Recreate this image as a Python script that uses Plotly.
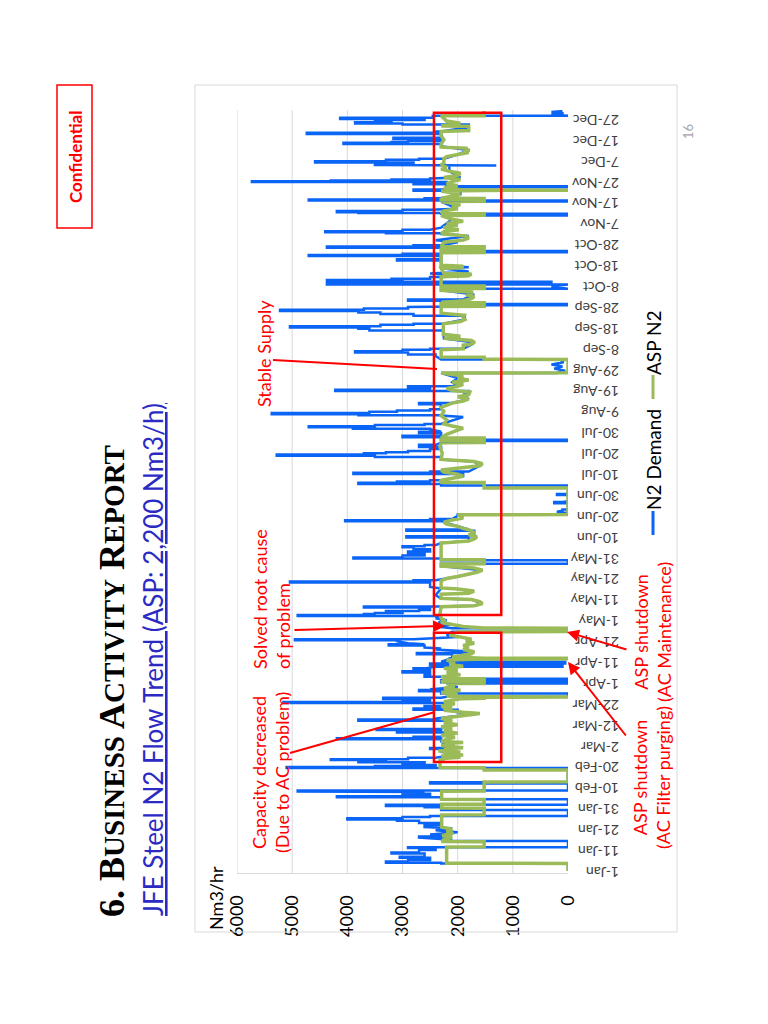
import plotly.graph_objects as go

# ---------------- data (day index 0 = 1-Jan) ----------------
date_tick_days = [0, 10, 20, 30, 40, 50, 60, 70, 80, 90, 100, 110, 120, 130, 140, 150, 160, 170,
                  180, 190, 200, 210, 220, 230, 240, 250, 260, 270, 280, 290, 300, 310, 320, 330,
                  340, 350, 360]
date_tick_labels = ["1-Jan", "11-Jan", "21-Jan", "31-Jan", "10-Feb", "20-Feb", "2-Mar", "12-Mar",
                    "22-Mar", "1-Apr", "11-Apr", "21-Apr", "1-May", "11-May", "21-May", "31-May",
                    "10-Jun", "20-Jun", "30-Jun", "10-Jul", "20-Jul", "30-Jul", "9-Aug", "19-Aug",
                    "29-Aug", "8-Sep", "18-Sep", "28-Sep", "8-Oct", "18-Oct", "28-Oct", "7-Nov",
                    "17-Nov", "27-Nov", "7-Dec", "17-Dec", "27-Dec"]
value_ticks = [0, 1000, 2000, 3000, 4000, 5000, 6000]
value_tick_labels = ["0", "1000", "2000", "3000", "4000", "5000", "6000"]

# ASP N2 (day, Nm3/hr)
asp_n2 = [
    (0, 0), (3.6, 0), (3.7, 2200), (6, 2200), (9, 2210), (11.5, 2200), (11.6, 1520), (14.0, 1520),
    (14.1, 2290), (15, 2250), (16, 2100), (17, 2280), (18, 2080), (19, 2200), (20, 2100), (21, 2290),
    (26.8, 2290), (26.9, 1520), (30.0, 1520), (30.1, 2290), (31.9, 2290), (32.0, 1520), (34.2, 1520),
    (34.3, 2290), (38.2, 2290), (38.3, 1520), (42.6, 1520), (42.7, 0), (48.3, 0), (48.4, 1520),
    (49.4, 1520), (49.5, 2320), (53, 2320),
    (54, 2200), (54.5, 1950), (55, 2300), (55.5, 1900), (56, 2250), (57, 1950), (57.5, 2350), (58, 2000),
    (58.5, 2250), (59, 1900), (60, 2300), (60.5, 2050), (61, 2250), (61.5, 1900), (62, 2300), (63, 2200),
    (64, 2050), (65, 2300), (66, 2000), (67, 2250), (68, 2100), (69, 2300), (70, 2000), (71, 2250),
    (72, 2100), (73, 2300), (74, 2000), (74.8, 1750), (75.4, 1600), (76, 1900), (77, 2250), (78, 2100),
    (79, 2300), (80, 2050), (81, 2250), (82.5, 1950), (82.7, 1520), (83.2, 1520), (83.3, 0), (83.4, 1520),
    (83.6, 2200), (84.5, 2000), (85.5, 2300), (86.5, 1950), (87.5, 2250), (88.5, 2050), (89.7, 2200),
    (89.8, 1520), (90.4, 1520), (90.5, 2300), (91.2, 2250), (91.3, 1520), (92, 1520), (92.1, 2100),
    (93, 2300), (94, 1950), (95, 2200), (96, 2000), (97, 2250), (98, 1900), (99, 2150), (100, 2050),
    (101, 2200), (101.5, 1520), (101.6, 0), (101.8, 0), (101.9, 1520), (102.5, 2100), (103, 1950),
    (104, 1750), (105, 1700), (106, 1900), (107, 1800), (108, 1900), (109, 1700), (110, 1850),
    (111, 1750), (112, 1950), (113, 2150), (114.4, 2000), (114.5, 1520), (114.6, 0), (116.2, 0),
    (116.3, 1520), (117, 1900), (118, 2150), (119, 2300), (120, 2250), (121, 2300),
    (123, 2320), (126.5, 2300), (127, 1700), (128, 1550), (129, 1600), (130, 1750), (130.5, 2300),
    (132.5, 2300), (133, 1800), (134, 1700), (135, 2000), (135.5, 2300), (139, 2300), (140, 2200),
    (141, 2000), (142, 1800), (143, 1650), (144, 1550), (145, 1700), (146, 2300), (147, 2300),
    (147.1, 1520), (149, 1520), (149.1, 2300), (157, 2300), (158, 1800), (159, 1700), (160, 1650),
    (161, 1800), (162, 1700), (163, 1750), (164, 1900), (165, 2000), (166, 2200), (167, 2250),
    (168, 2100), (169, 1900), (170.5, 2000), (170.6, 1520), (170.7, 0), (183.3, 0), (183.4, 1520),
    (186, 1520), (186.1, 2320), (187, 2300), (188, 2100), (189, 1900), (190, 2000), (191, 2250),
    (192, 2300), (193, 2000), (194, 1600), (195, 1550), (196, 1700), (197, 2300), (200, 2280),
    (203, 2320), (205, 2300), (205.1, 1520), (206, 1520), (206.1, 2300), (206.6, 2300), (206.7, 1520),
    (207.3, 1520), (207.4, 2300), (209, 2200), (211, 2000), (212, 1900), (213, 2100), (214, 2250),
    (216, 2200), (218, 2300), (220, 2250), (222, 2300), (224, 2100), (225, 1900), (226, 1800),
    (227, 2000), (228, 1800), (229.3, 1780), (230, 2100), (231, 2200), (232, 2000), (233, 1900),
    (234, 2100), (235, 1800), (236, 2000), (237, 1900), (238.4, 2300), (238.5, 0), (244.9, 0),
    (245, 1520), (246, 1520), (246.1, 2300), (249.5, 2300), (250, 1900), (251.7, 1900), (252, 1780),
    (253, 1690), (254, 1750), (255, 2250), (256, 1950), (257, 2260), (262, 2260), (263, 1950),
    (264, 1870), (265, 1900), (266, 1880), (267, 2300), (270.2, 2300), (270.3, 1520), (271, 1520),
    (271.1, 2300), (271.5, 2300), (271.6, 1520), (272, 1520), (272.1, 2300), (273, 1900), (274, 1750),
    (275, 1700), (276, 1850), (277, 1720), (278, 2300), (278.8, 2300), (278.9, 1520), (280, 1520),
    (280.1, 2300), (284.5, 2300), (285, 1800), (285.8, 1750), (286, 2250), (288.5, 2300),
    (288.6, 1950), (289.5, 1900), (290, 2300), (296, 2300), (296.1, 1520), (297, 1520), (297.1, 2300),
    (297.6, 2300), (297.7, 1520), (298.8, 1520), (298.9, 2300), (301, 2250), (302, 1900), (303, 1800),
    (304, 1850), (305, 2300), (306, 2250), (307, 1980), (308, 2260), (309, 2000), (310, 2200),
    (311, 1900), (312, 2100), (313.8, 2300), (313.9, 1520), (314.6, 1520), (314.7, 2300), (316, 2250),
    (317, 2000), (318, 2100), (319, 1950), (320.5, 2300), (320.6, 1520), (321.1, 1520), (321.2, 2300),
    (321.4, 2300), (321.5, 1520), (321.9, 1520), (322, 2300), (323, 2100), (324, 1950), (325.5, 2300),
    (325.8, 1520), (325.9, -30), (326, 1900), (327, 2250), (328, 2000), (329, 2200), (330, 2100),
    (331, 1950), (332, 2250), (333, 2000), (334, 1950), (335, 2150), (336, 2300), (337, 2200),
    (338, 2300), (339, 2250), (341, 2250), (342, 2200), (343, 2000), (343.5, 1850), (344, 1800),
    (344.5, 1900), (345, 1780), (345.5, 1880), (346, 1820), (346.5, 2300), (348, 2300), (350, 2250),
    (352, 2300), (354, 2300), (354.5, 1800), (356.5, 1800), (356.6, 2300), (358, 1950), (359, 2200),
    (361.5, 2300), (361.6, 1520), (363.8, 1520),
]

# N2 Demand (day, Nm3/hr)
n2_demand = [
    (0, 0), (3.6, 0), (3.6, 2300), (4.0, 2300), (4.0, 3300), (4.5, 3300), (4.5, 2900), (5.3, 2900),
    (5.3, 2500), (6.3, 2500), (6.3, 3050), (6.8, 3050), (6.8, 2600), (8.4, 2600), (8.4, 3200),
    (8.9, 3200), (8.9, 2700), (10, 2700), (10, 2400), (11, 2400), (11, 2900), (11.4, 2900), (11.4, 0),
    (14.3, 0), (14.3, 2300), (15, 2100), (16, 2700), (16.5, 2700), (16.5, 2200), (17.5, 2500),
    (18.5, 2000), (19.5, 2400), (20.5, 2100), (21, 2600), (22, 2600), (22, 2300), (23, 2300),
    (23, 2700), (24, 2700), (24, 3100), (24.7, 3100), (24.7, 4000), (25.2, 4000), (25.2, 3000),
    (25.8, 3000), (25.8, 2500), (26.3, 2500), (26.3, 0), (29.2, 0), (29.2, 2300), (30.5, 2300),
    (30.5, 2600), (31.1, 2600), (31.1, 3300), (31.7, 3300), (31.7, 0), (34.3, 0), (34.3, 2300),
    (35.3, 2300), (35.3, 4190), (35.8, 4190), (35.8, 2800), (36.5, 2800), (36.5, 2500), (37, 2500),
    (37, 3000), (37.8, 3000), (37.8, 2600), (38.1, 2600), (38.1, 4900), (38.5, 4900), (38.5, 0),
    (41.9, 0), (41.9, 2500), (42.5, 2500), (42.5, 0), (49.3, 0), (49.3, 5100), (49.8, 5100),
    (49.8, 3500), (50.3, 3500), (50.3, 2400), (50.7, 2400), (50.7, 3000), (51.3, 3000), (51.3, 2600),
    (52, 2600), (52, 3800), (52.6, 3800), (52.6, 3300), (53.1, 3300), (53.1, 4300), (53.5, 4300),
    (53.5, 2900), (54.2, 2900), (54.2, 2400),
    (55, 2200), (56, 2000), (57, 2300), (58.4, 2300), (58.4, 2500), (58.9, 2500), (58.9, 2200),
    (60, 2200), (62, 2300), (63.1, 2300), (63.1, 4190), (63.6, 4190), (63.6, 2800), (64.3, 2800),
    (64.3, 2300), (65.5, 2200), (66.3, 2200), (66.3, 3100), (66.9, 3100), (66.9, 2300), (67.5, 2300),
    (67.5, 3470), (68, 3470), (68, 2300), (70, 2200), (71.9, 2200), (71.9, 3800), (72.5, 3800),
    (72.5, 2400), (73, 2400), (74, 2100), (75.4, 1600), (76, 2000), (77.2, 2000), (77.2, 2800),
    (77.8, 2800), (77.8, 2300), (78.4, 2300), (78.4, 2600), (79, 2600), (79, 2200), (80.4, 2200),
    (80.4, 5160), (80.9, 5160), (80.9, 3000), (81.5, 3000), (81.5, 2500), (82.3, 2500), (82.3, 3350),
    (82.9, 3350), (82.9, 2300), (83.4, 2200), (83.4, 0), (85, 0), (85, 2300), (86, 2300), (86, 2700),
    (86.6, 2700), (86.6, 2200), (87, 2500), (88, 2000), (89.7, 2200), (89.7, 0), (90.4, 0),
    (90.4, 2300), (91.3, 2300), (91.3, 0), (92, 0), (92, 2100), (93, 2100), (93, 2600), (94, 2600),
    (94, 2500), (95, 2500), (95, 3000), (95.6, 3000), (95.6, 2500), (96.3, 2500), (96.3, 2800),
    (97, 2800), (97, 2600), (97.8, 2400), (97.8, 100), (98.6, 100), (98.6, 2500), (99.3, 2500),
    (99.3, 50), (100.2, 50), (100.2, 2300), (101, 2200), (102.5, 2100), (103.8, 2100), (103.8, 2740),
    (104.3, 2740), (104.3, 2000), (105, 1700), (106, 2400), (106.5, 2300), (107, 2600), (108, 2600),
    (108, 3250), (108.6, 3250), (108.6, 2600), (109, 2900), (110, 3100), (110.5, 3100), (110.5, 4950),
    (110.9, 4950), (110.9, 2800), (111.5, 2400), (112, 2000), (113, 2200), (114.5, 2100), (114.5, 0),
    (116.2, 0), (116.2, 2100), (117, 2400), (118, 2100), (119, 2350), (120, 2200), (121, 2400),
    (122.1, 2300), (122.1, 4900), (122.5, 4900), (122.5, 3700), (123, 3700), (123, 3500),
    (123.5, 3500), (123.5, 3000), (124, 3000), (124, 3300), (124.5, 3300), (124.5, 2700), (125, 2700),
    (125, 2500), (126.1, 2500), (126.1, 3700), (126.6, 3700), (126.6, 2400), (127, 1700), (128, 1550),
    (129, 1650), (130, 1750), (130.5, 2300), (132, 2400), (135.2, 2300), (136, 2500), (138.1, 2500),
    (138.1, 5040), (138.6, 5040), (138.6, 2800), (139.2, 2800), (139.2, 2400), (140, 2200),
    (142, 1800), (144, 1550), (146, 2300), (147.1, 2300), (147.1, 0), (148.8, 0), (148.8, 2300),
    (149.6, 2300), (149.6, 3890), (150.1, 3890), (150.1, 3000), (151, 3000), (151, 2600), (152, 2600),
    (152, 2900), (153, 2900), (153, 2500), (154, 2500), (154, 2800), (155, 2800), (155, 3000),
    (155.5, 3000), (155.5, 2600), (156, 2600), (156, 2400), (157, 2300), (158, 1800), (159.7, 1800),
    (159.7, 2930), (160.3, 2930), (160.3, 1700), (162, 1700), (162.9, 1700), (162.9, 2930),
    (163.5, 2930), (163.5, 1800), (165, 2000), (167, 2250), (167.4, 2250), (167.4, 4040),
    (167.9, 4040), (167.9, 2500), (168.5, 2500), (168.5, 2100), (170, 2000), (170.6, 2000),
    (170.6, 0), (171.5, 0), (171.5, 150), (172, 200), (172.5, 100), (173, 100), (173, 0), (176, 0),
    (176, 250), (176.6, 250), (176.6, 100), (177, 0), (180, 0), (180, 200), (180.5, 200), (180.5, 0),
    (184.5, 0), (184.5, 2300), (185.3, 2300), (185.3, 3800), (185.9, 3800), (185.9, 3100),
    (186.5, 3100), (186.5, 2500), (187, 2500), (187, 2300), (189, 1900), (190.1, 1900), (190.1, 3890),
    (190.6, 3890), (190.6, 2500), (191.2, 2500), (191.2, 1800), (192.5, 1700), (194, 1600),
    (196, 1700), (197, 2300), (198.2, 2300), (198.2, 3500), (198.8, 3500), (198.8, 5280),
    (199.4, 5280), (199.4, 3700), (200, 3700), (200, 3300), (200.5, 3300), (200.5, 2900), (201, 2900),
    (201, 2500), (202, 2500), (202, 2300), (203, 2300), (203, 2700), (204, 2700), (204, 2400),
    (205, 2300), (205, 1520), (205.9, 1520), (205.9, 0), (206.5, 0), (206.5, 2300), (207.7, 2300),
    (207.7, 3000), (208.3, 3000), (208.3, 2300), (209.7, 2300), (209.7, 2700), (210.3, 2700),
    (210.3, 2300), (211.5, 2500), (211.7, 2500), (211.7, 3900), (212.4, 3900), (212.4, 4700),
    (212.9, 4700), (212.9, 3500), (213.5, 3500), (213.5, 2600), (214, 2600), (214, 2300),
    (217.3, 1900), (218, 2300), (218.2, 2300), (218.2, 3800), (218.7, 3800), (218.7, 5370),
    (219.2, 5370), (219.2, 3600), (219.8, 3600), (219.8, 3100), (220.4, 3100), (220.4, 2500),
    (221, 2500), (221, 2300), (223.4, 2300), (223.4, 2700), (224, 2700), (224, 2100), (226, 1800),
    (228, 1900), (229, 1800), (229.8, 1800), (229.8, 4220), (230.4, 4220), (230.4, 2500),
    (231.4, 2500), (231.4, 2900), (232, 2900), (232, 2000), (234, 2100), (236, 2000), (238.4, 2300),
    (238.4, 200), (239.5, 50), (240.5, 250), (241.5, 100), (242.5, 300), (243.5, 80), (244.9, 150),
    (244.9, 2300), (246.5, 2400), (247.2, 2400), (247.2, 2900), (248.2, 2900), (248.2, 3860),
    (248.8, 3860), (248.8, 3000), (249.5, 3000), (249.5, 2500), (250, 2500), (250, 1900), (252, 1750),
    (253, 1700), (255, 2250), (257, 2260), (258.8, 2260), (258.8, 3600), (259.6, 3600), (259.6, 3800),
    (260.2, 3800), (260.2, 5040), (260.8, 5040), (260.8, 3400), (261.5, 3400), (261.5, 2800),
    (262, 2800), (262, 2260), (264, 1870), (265.8, 1870), (265.8, 2800), (266.6, 2800), (266.6, 3400),
    (267.4, 3400), (267.4, 3800), (268.1, 3800), (268.1, 5220), (268.7, 5220), (268.7, 3700),
    (269.3, 3700), (269.3, 2900), (270, 2900), (270, 2300), (270.3, 2300), (270.3, 1520),
    (270.8, 1520), (270.8, 0), (271.4, 0), (271.4, 2300), (273, 2300), (273, 2900), (273.6, 2900),
    (273.6, 1900), (276, 1700), (278, 2300), (278.7, 2300), (278.7, 0), (279.8, 300), (280.8, 0),
    (280.8, 4370), (281.3, 4370), (281.3, 3700), (281.8, 3700), (281.8, 300), (282.1, 300),
    (282.1, 3000), (282.4, 3000), (282.4, 4370), (282.9, 4370), (282.9, 3200), (283.5, 3200),
    (283.5, 2500), (284.3, 2500), (284.3, 2300), (285, 1800), (286, 2500), (287, 1800), (288.5, 2300),
    (289, 1800), (290, 2300), (292.3, 2300), (292.3, 3100), (292.9, 3100), (292.9, 2300),
    (294.4, 2300), (294.4, 4700), (294.9, 4700), (294.9, 3000), (295.5, 3000), (295.5, 2300),
    (296.2, 2300), (296.2, 0), (296.8, 0), (296.8, 2300), (298.3, 2300), (298.3, 4370), (298.9, 4370),
    (298.9, 2800), (299.5, 2800), (299.5, 2300), (301, 2000), (302, 2400), (304, 1800), (305, 2300),
    (305.3, 2300), (305.3, 3300), (305.8, 3300), (305.8, 4400), (306.3, 4400), (306.3, 3000),
    (307, 3000), (307, 2500), (308, 2300), (312, 2100), (313.8, 2300), (313.8, 0), (314.6, 0),
    (314.6, 2300), (315, 2300), (315, 3800), (315.4, 3800), (315.4, 4190), (315.9, 4190),
    (315.9, 3000), (316.5, 3000), (316.5, 2500), (317, 2000), (320.5, 2300), (320.5, 0), (321, 0),
    (321, 4700), (321.5, 4700), (321.5, 2600), (322, 2600), (322, 2300), (324, 1950), (325.6, 1950),
    (325.6, 2800), (326.2, 2800), (326.2, 2100), (327.3, 2200), (327.3, 0), (327.8, 0), (327.8, 2200),
    (328.8, 2200), (328.8, 2800), (329.4, 2800), (329.4, 2200), (329.8, 2200), (329.8, 5730),
    (330.2, 5730), (330.2, 4300), (330.6, 4300), (330.6, 3200), (331, 3200), (331, 2500),
    (331.5, 2500), (332, 1950), (335, 2150), (337.7, 2150), (337.7, 1300), (338, 1300), (338, 3500),
    (338.5, 3500), (338.5, 2800), (339.2, 2800), (339.2, 4585), (339.8, 4585), (339.8, 3300),
    (340.5, 3300), (340.5, 2700), (341, 2700), (341, 2250), (343, 2000), (345, 1800), (347, 2300),
    (348, 2300), (348, 4070), (348.6, 4070), (348.6, 3200), (349, 3200), (349, 2900), (349.5, 2900),
    (349.5, 2300), (350.4, 2300), (350.4, 3165), (351, 3165), (351, 2300), (352.8, 2300),
    (352.8, 4735), (353.4, 4735), (353.4, 2400), (354, 2400), (354, 2300), (356, 1800), (357.3, 1800),
    (357.3, 3000), (357.8, 3000), (357.8, 3860), (358.4, 3860), (358.4, 3200), (359, 3200),
    (359, 3500), (359.5, 3500), (359.5, 2600), (360, 2600), (360, 4130), (360.6, 4130), (360.6, 2450),
    (361.5, 2450), (361.5, 0), (362.2, 300), (362.8, 80), (363.3, 300), (363.8, 100),
]

# red highlight boxes: (value_left, value_right, day_start, day_end)
box_capacity = (2430, 1210, 52.2, 114.0)
box_stable = (2430, 1210, 122.5, 363.0)

BLUE = "#0A64F5"
GREEN = "#9BBB59"
RED = "#FF0000"
FONT = "Lato"

# ---------------- layout geometry ----------------
W, H = 768, 1024
L, R, T, B = 237, 568, 110, 873  # plot area in pixels


def px(x):
    return (x - L) / (R - L)


def py(y):
    return (B - y) / (B - T)


fig = go.Figure()
fig.add_trace(go.Scatter(x=[v for d, v in n2_demand], y=[d for d, v in n2_demand], mode="lines",
                         line=dict(color=BLUE, width=2.5), name="N2 Demand", showlegend=False))
fig.add_trace(go.Scatter(x=[v for d, v in asp_n2], y=[d for d, v in asp_n2], mode="lines",
                         line=dict(color=GREEN, width=3.5), name="ASP N2", showlegend=False))

shapes = []
for v in value_ticks[1:]:
    shapes.append(dict(type="line", xref="x", yref="paper", x0=v, x1=v, y0=0, y1=1,
                       line=dict(color="#D9D9D9", width=1), layer="below"))
for (v0, v1, d0, d1) in (box_capacity, box_stable):
    shapes.append(dict(type="rect", xref="x", yref="y", x0=v0, x1=v1, y0=d0, y1=d1,
                       line=dict(color=RED, width=2.5)))
shapes.append(dict(type="rect", xref="paper", yref="paper", x0=px(195), x1=px(677), y0=py(932),
                   y1=py(85), line=dict(color="#D9D9D9", width=1)))
shapes.append(dict(type="rect", xref="paper", yref="paper", x0=px(57), x1=px(92), y0=py(228),
                   y1=py(85), line=dict(color=RED, width=1.5)))
shapes.append(dict(type="line", xref="paper", yref="paper", x0=px(653), x1=px(653), y0=py(535),
                   y1=py(511), line=dict(color=BLUE, width=3)))
shapes.append(dict(type="line", xref="paper", yref="paper", x0=px(653), x1=px(653), y0=py(399),
                   y1=py(375), line=dict(color=GREEN, width=3)))
shapes.append(dict(type="line", xref="paper", yref="paper", x0=px(290), y0=py(753), x1=px(435),
                   y1=py(712), line=dict(color=RED, width=2)))
shapes.append(dict(type="line", xref="paper", yref="paper", x0=px(273), y0=py(360), x1=px(437),
                   y1=py(369), line=dict(color=RED, width=2)))

ann = []


def text(x, y, s, size, color="#000000", family=FONT, angle=-90, align="center", **fontkw):
    ann.append(dict(x=px(x), y=py(y), xref="paper", yref="paper", text=s, showarrow=False,
                    textangle=angle, align=align, xanchor="center", yanchor="middle",
                    font=dict(size=size, color=color, family=family, **fontkw)))


sm = "font-size:29px"
text(112, 681, f"6. B<span style='{sm}'>USINESS</span> A<span style='{sm}'>CTIVITY</span> "
     f"R<span style='{sm}'>EPORT</span>", 36, family="Liberation Serif", weight="bold")
text(153, 660, "JFE Steel N2 Flow Trend (ASP: 2,200 Nm3/h)", 26, color="#2B2BC4",
     lineposition="under")
text(75, 157, "Confidential", 17, color=RED, weight="bold")
text(688, 132, "16", 13, color="#A6A6A6")
text(216, 898, "Nm3/hr", 18)
text(653, 460, "N2 Demand", 19)
text(653, 343, "ASP N2", 19)
text(270, 773, "Capacity decreased<br>(Due to AC problem)", 18, color=RED)
text(271, 599, "Solved root cause<br>of problem", 18, color=RED, align="left")
text(264, 354, "Stable Supply", 18, color=RED)
text(651, 778, "ASP shutdown<br>(AC Filter purging)", 18, color=RED)
text(652, 632, "ASP shutdown<br>(AC Maintenance)", 18, color=RED)

for (hx, hy, tx, ty) in ((445, 626, 293, 630), (568, 662, 627, 737), (567, 632, 628, 650)):
    ann.append(dict(x=px(hx), y=py(hy), xref="paper", yref="paper", text="", showarrow=True,
                    ax=tx - hx, ay=ty - hy, arrowhead=2, arrowsize=1.2, arrowwidth=2,
                    arrowcolor=RED, standoff=0))

fig.update_layout(
    width=W, height=H,
    margin=dict(l=L, r=W - R, t=T, b=H - B, pad=0),
    paper_bgcolor="white", plot_bgcolor="white",
    shapes=shapes, annotations=ann,
    xaxis=dict(range=[6000, 0], tickmode="array", tickvals=value_ticks, ticktext=value_tick_labels,
               tickangle=-90, tickfont=dict(size=18, color="#000000", family=FONT), showgrid=False,
               zeroline=False, showline=True, linecolor="#D9D9D9", linewidth=1, ticks="",
               ticklabelstandoff=14),
    yaxis=dict(range=[-0.96, 364.3], tickmode="array", tickvals=date_tick_days,
               ticktext=date_tick_labels, side="right", tickangle=180,
               tickfont=dict(size=14, color="#404040", family=FONT), showgrid=False,
               zeroline=False, showline=False, ticks="", ticklabelstandoff=50,
               ticklabelshift=5),
    showlegend=False,
)

fig.write_html("out.html", config={"displayModeBar": False},
               post_script="document.body.style.margin='0';document.body.style.overflow='hidden';")
